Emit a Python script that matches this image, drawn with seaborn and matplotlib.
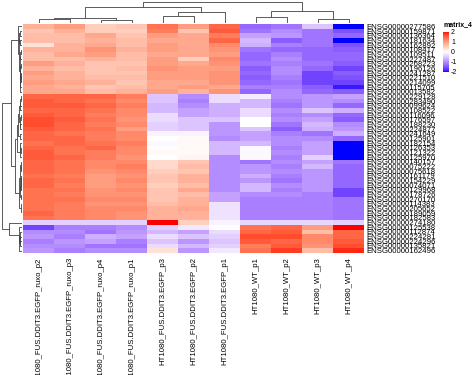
import numpy as np
import pandas as pd
import matplotlib
matplotlib.use("Agg")
import matplotlib.pyplot as plt
from matplotlib.colors import ListedColormap, to_rgb, Normalize
from matplotlib.cm import ScalarMappable
import seaborn as sns

col_labels = ["HT1080_FUS.DDIT3.EGFP_ruxo_p2", "HT1080_FUS.DDIT3.EGFP_ruxo_p3",
              "HT1080_FUS.DDIT3.EGFP_ruxo_p4", "HT1080_FUS.DDIT3.EGFP_ruxo_p1",
              "HT1080_FUS.DDIT3.EGFP_p3", "HT1080_FUS.DDIT3.EGFP_p2",
              "HT1080_FUS.DDIT3.EGFP_p1", "HT1080_WT_p1", "HT1080_WT_p2",
              "HT1080_WT_p3", "HT1080_WT_p4"]

row_ids = ["ENSG00000277586", "ENSG00000159871", "ENSG00000136364", "ENSG00000181634",
           "ENSG00000162892", "ENSG00000108417", "ENSG00000109511", "ENSG00000227487",
           "ENSG00000268223", "ENSG00000196126", "ENSG00000241287", "ENSG00000221510",
           "ENSG00000214099", "ENSG00000115705", "ENSG00000013582", "ENSG00000229128",
           "ENSG00000283490", "ENSG00000099624", "ENSG00000108522", "ENSG00000116096",
           "ENSG00000176597", "ENSG00000188230", "ENSG00000224877", "ENSG00000241649",
           "ENSG00000125901", "ENSG00000182154", "ENSG00000126353", "ENSG00000121322",
           "ENSG00000125970", "ENSG00000140157", "ENSG00000075222", "ENSG00000075618",
           "ENSG00000161179", "ENSG00000154229", "ENSG00000074071", "ENSG00000129968",
           "ENSG00000178726", "ENSG00000270170", "ENSG00000114383", "ENSG00000205652",
           "ENSG00000189059", "ENSG00000182583", "ENSG00000274180", "ENSG00000125538",
           "ENSG00000112874", "ENSG00000224281", "ENSG00000224296", "ENSG00000135821",
           "ENSG00000162496"]

# upper block: up in EGFP, weaker in ruxo, down in WT
upper_block = [
    [0.8, 1.0, 0.5, 0.6, 1.4, 1.0, 1.5, -1.3, -1.2, -0.5, -2.0],
    [0.6, 0.8, 0.5, 0.5, 1.3, 0.6, 1.6, -1.2, -1.0, -1.2, -1.5],
    [0.7, 0.7, 0.9, 0.6, 1.0, 0.9, 1.3, -0.8, -0.9, -1.2, -1.3],
    [0.7, 0.7, 0.8, 0.7, 0.9, 0.9, 1.5, -0.6, -1.4, -1.2, -2.0],
    [0.3, 0.8, 0.9, 0.7, 1.0, 0.9, 1.2, -0.7, -1.1, -1.2, -1.5],
    [0.8, 0.8, 1.1, 0.8, 1.0, 0.9, 1.1, -1.2, -1.3, -1.3, -1.4],
    [0.7, 0.9, 1.0, 0.7, 0.9, 0.9, 1.0, -1.3, -1.1, -1.3, -1.3],
    [0.7, 0.7, 0.8, 0.7, 1.0, 0.5, 1.2, -1.3, -1.0, -1.3, -1.3],
    [1.0, 0.8, 0.6, 0.6, 1.0, 0.9, 1.1, -1.2, -1.1, -1.2, -1.4],
    [0.8, 0.7, 0.6, 0.7, 1.1, 1.0, 1.0, -1.4, -1.0, -1.3, -1.6],
    [1.0, 0.8, 0.6, 0.6, 1.0, 1.0, 1.1, -1.3, -1.0, -1.6, -1.4],
    [0.9, 0.8, 0.7, 0.7, 1.0, 1.0, 1.1, -1.4, -1.1, -1.6, -1.5],
    [1.0, 0.9, 0.8, 0.6, 0.9, 0.9, 1.1, -1.3, -1.2, -1.6, -1.6],
    [0.9, 0.8, 0.6, 0.7, 0.9, 1.0, 0.9, -1.1, -1.1, -1.4, -1.9],
    [0.9, 0.9, 0.7, 0.8, 1.0, 0.8, 1.1, -1.3, -1.0, -1.3, -1.4],
]

# middle block: strongly up in ruxo
middle_block = [
    [1.5, 1.5, 1.5, 1.3, -0.5, -1.0, -0.3, -0.15, -1.0, -0.9, -0.8],
    [1.6, 1.5, 1.4, 1.2, -0.5, -1.1, -0.3, -0.6, -1.1, -0.9, -1.0],
    [1.6, 1.6, 1.5, 1.3, -0.6, -1.0, -0.7, -0.6, -1.2, -0.9, -1.3],
    [1.5, 1.5, 1.4, 1.2, -0.6, -0.8, -0.7, -0.3, -1.0, -0.5, -0.7],
    [1.6, 1.5, 1.3, 1.2, -0.3, -0.8, -0.7, -0.3, -1.1, -1.0, -1.3],
    [1.7, 1.6, 1.4, 1.1, -0.3, -0.5, -0.5, 0.0, -1.0, -0.8, -1.4],
    [1.7, 1.5, 1.3, 1.2, -0.4, -0.5, -0.9, 0.0, -1.2, -0.6, -1.0],
    [1.6, 1.5, 1.4, 1.0, -0.4, -0.5, -0.9, -0.5, -1.4, -0.7, -0.9],
    [1.5, 1.4, 1.3, 1.2, -0.1, -0.1, -0.9, -0.8, -1.1, -1.2, -0.7],
    [1.5, 1.5, 1.3, 1.2, 0.0, 0.05, -1.0, -0.8, -1.0, -1.0, -1.3],
    [1.4, 1.5, 1.4, 1.3, -0.05, 0.05, -0.6, -0.6, -1.0, -0.8, -2.0],
    [1.5, 1.4, 1.5, 1.2, 0.0, 0.05, -0.6, -0.05, -1.1, -0.8, -2.0],
    [1.6, 1.4, 1.3, 1.2, 0.05, 0.05, -0.6, -0.05, -1.0, -0.8, -2.0],
    [1.6, 1.5, 1.3, 1.1, 0.0, 0.1, -1.0, -0.05, -1.1, -0.4, -2.0],
    [1.5, 1.4, 1.2, 1.2, 0.4, 0.6, -1.0, -1.2, -1.0, -0.8, -1.2],
    [1.5, 1.4, 1.2, 1.3, 0.4, 0.7, -1.0, -0.9, -1.1, -0.6, -1.3],
    [1.5, 1.4, 1.1, 1.2, 0.5, 0.6, -1.0, -0.9, -1.0, -0.9, -1.3],
    [1.4, 1.3, 1.0, 1.1, 0.6, 0.8, -1.0, -0.7, -1.1, -0.9, -1.3],
    [1.5, 1.4, 1.0, 1.2, 0.6, 0.8, -1.0, -0.9, -1.2, -0.9, -1.3],
    [1.5, 1.3, 1.0, 1.1, 0.5, 0.7, -1.0, -0.6, -1.0, -0.9, -1.3],
    [1.4, 1.4, 1.1, 1.2, 0.6, 0.9, -1.0, -0.6, -1.1, -0.9, -1.6],
    [1.4, 1.3, 1.1, 1.1, 0.6, 0.7, -0.8, -1.0, -1.0, -1.1, -1.6],
    [1.4, 1.4, 1.2, 1.2, 0.6, 0.8, -0.8, -1.1, -1.1, -1.1, -1.2],
    [1.4, 1.3, 1.1, 1.1, 0.7, 0.8, -0.25, -1.1, -1.1, -1.1, -1.2],
    [1.4, 1.3, 1.2, 1.2, 0.8, 0.9, -0.25, -1.1, -1.1, -1.1, -1.2],
    [1.5, 1.3, 1.2, 1.1, 0.8, 0.8, -0.25, -1.1, -1.1, -1.1, -1.2],
    [1.4, 1.3, 1.2, 1.1, 0.8, 0.8, -0.25, -1.1, -1.1, -1.1, -1.2],
]

# single outlier row
outlier_row = [-0.4, -0.4, -0.4, -0.4, 2.0, 0.5, -0.1, -0.35, -0.35, -0.35, -0.4]

# lower block: down in FUS-DDIT3, up in WT
lower_block = [
    [-1.6, -1.1, -1.1, -1.0, -0.4, -0.2, 0.0, 1.4, 1.5, 1.0, 2.0],
    [-1.0, -1.0, -1.2, -0.9, -0.6, -0.8, -0.3, 1.5, 1.6, 0.7, 1.5],
    [-0.9, -1.1, -0.7, -0.8, -0.3, -0.5, -0.4, 1.7, 1.7, 1.2, 1.5],
    [-1.1, -0.9, -0.8, -1.1, -0.5, -0.9, -0.5, 1.6, 1.5, 1.2, 1.6],
    [-1.0, -1.0, -1.2, -1.2, -0.3, -0.6, -0.4, 1.3, 1.6, 1.1, 1.7],
    [-0.9, -1.1, -1.0, -1.0, 0.3, -0.9, -0.2, 1.4, 1.8, 0.7, 1.9],
]

# column dendrogram: (node a, node b, merge height);
# leaves are 0..10, every merge creates the next node id (11, 12, ...)
col_merges = [
    (0, 1, 4.0),
    (2, 3, 3.0),
    (11, 12, 5.0),
    (4, 5, 7.0),
    (14, 6, 11.0),
    (9, 10, 4.0),
    (7, 8, 6.0),
    (17, 16, 12.0),
    (13, 15, 15.0),
    (19, 18, 20.0),
]

values = np.array(upper_block + middle_block + [outlier_row] + lower_block)
df = pd.DataFrame(values, index=row_ids, columns=col_labels)


# ---- colour ramp blue-white-red interpolated in LAB space (like colorRamp2)
def _srgb_to_lin(c):
    c = np.asarray(c, float)
    return np.where(c <= 0.04045, c / 12.92, ((c + 0.055) / 1.055) ** 2.4)


def _lin_to_srgb(c):
    c = np.clip(c, 0, 1)
    return np.where(c <= 0.0031308, 12.92 * c, 1.055 * c ** (1 / 2.4) - 0.055)


M = np.array([[0.4124, 0.3576, 0.1805], [0.2126, 0.7152, 0.0722], [0.0193, 0.1192, 0.9505]])
WP = np.array([0.95047, 1.0, 1.08883])


def rgb2lab(rgb):
    xyz = M @ _srgb_to_lin(rgb) / WP
    f = np.where(xyz > 0.008856, np.cbrt(xyz), 7.787 * xyz + 16 / 116)
    return np.array([116 * f[1] - 16, 500 * (f[0] - f[1]), 200 * (f[1] - f[2])])


def lab2rgb(lab):
    L, a, b = lab
    fy = (L + 16) / 116
    f = np.array([fy + a / 500, fy, fy - b / 200])
    xyz = np.where(f ** 3 > 0.008856, f ** 3, (f - 16 / 116) / 7.787) * WP
    return np.clip(_lin_to_srgb(np.linalg.inv(M) @ xyz), 0, 1)


lab_b, lab_w, lab_r = rgb2lab(to_rgb("blue")), rgb2lab(to_rgb("white")), rgb2lab(to_rgb("red"))
ramp = []
for t in np.linspace(-2, 2, 256):
    if t < 0:
        s = (t + 2) / 2
        ramp.append(lab2rgb(lab_b + (lab_w - lab_b) * s))
    else:
        s = t / 2
        ramp.append(lab2rgb(lab_w + (lab_r - lab_w) * s))
cmap = ListedColormap(ramp)


# ---- order-preserving complete-linkage clustering for the row dendrogram
def ordered_linkage(X):
    n = len(X)
    D = np.sqrt(((X[:, None, :] - X[None, :, :]) ** 2).sum(-1))
    clusters = [[i] for i in range(n)]
    pos = [i + 0.5 for i in range(n)]
    hts = [0.0] * n
    segs = []
    while len(clusters) > 1:
        best, bi = None, 0
        for i in range(len(clusters) - 1):
            d = D[np.ix_(clusters[i], clusters[i + 1])].max()
            if best is None or d < best:
                best, bi = d, i
        h = best
        pa, pb = pos[bi], pos[bi + 1]
        segs.append(([pa, pa, pb, pb], [hts[bi], h, h, hts[bi + 1]]))
        clusters[bi] = clusters[bi] + clusters.pop(bi + 1)
        pos[bi] = (pa + pb) / 2
        pos.pop(bi + 1)
        hts[bi] = h
        hts.pop(bi + 1)
    return segs, hts[0]


def merges_to_segs(merges, n):
    pos = {i: i + 0.5 for i in range(n)}
    hts = {i: 0.0 for i in range(n)}
    segs = []
    for k, (a, b, h) in enumerate(merges):
        segs.append(([pos[a], pos[a], pos[b], pos[b]], [hts[a], h, h, hts[b]]))
        pos[n + k] = (pos[a] + pos[b]) / 2
        hts[n + k] = h
    return segs, max(h for _, _, h in merges)


W, H = 474, 375
fig = plt.figure(figsize=(W / 100, H / 100), dpi=100)
plt.rcParams['font.family'] = ['Liberation Sans', 'DejaVu Sans']


def box(x0, y0, x1, y1):
    return [x0 / W, 1 - y1 / H, (x1 - x0) / W, (y1 - y0) / H]


hm_x0, hm_y0, hm_x1, hm_y1 = 23, 24, 364, 253
ax = fig.add_axes(box(hm_x0, hm_y0, hm_x1, hm_y1))
sns.heatmap(df, ax=ax, cmap=cmap, vmin=-2, vmax=2, cbar=False,
            xticklabels=True, yticklabels=True, linewidths=0)
ax.yaxis.tick_right()
ax.set_yticklabels(row_ids, rotation=0, fontsize=5.6)
ax.set_xticklabels(col_labels, rotation=90, fontsize=5.6)
ax.tick_params(axis='both', length=0, pad=1.5)
ax.tick_params(axis='x', pad=3)
ax.set_xlabel("")
ax.set_ylabel("")

line_kw = dict(color="#404040", lw=0.6, solid_capstyle="butt")

# column dendrogram
cax = fig.add_axes(box(hm_x0, 2, hm_x1, hm_y0 - 1))
segs, top = merges_to_segs(col_merges, values.shape[1])
for xs, ys in segs:
    cax.plot(xs, ys, **line_kw)
cax.set_xlim(0, values.shape[1])
cax.set_ylim(0, top * 1.01)
cax.axis("off")

# row dendrogram
rax = fig.add_axes(box(2, hm_y0, hm_x0 - 1, hm_y1))
segs, top = ordered_linkage(values)
for xs, ys in segs:
    rax.plot(ys, xs, **line_kw)
rax.set_ylim(values.shape[0], 0)
rax.set_xlim(top * 1.01, 0)
rax.axis("off")

# legend
fig.text(443 / W, 1 - 25 / H, "matrix_4", fontsize=5, fontweight="bold",
         ha="left", va="center")
lax = fig.add_axes(box(443, 32, 449, 72))
cb = fig.colorbar(ScalarMappable(norm=Normalize(-2, 2), cmap=cmap), cax=lax,
                  ticks=[-2, -1, 0, 1, 2])
cb.outline.set_visible(False)
cb.ax.set_yticklabels(["-2", "-1", "0", "1", "2"])
cb.ax.tick_params(length=0, labelsize=5, pad=1.5)

fig.savefig("out.png", dpi=100)
